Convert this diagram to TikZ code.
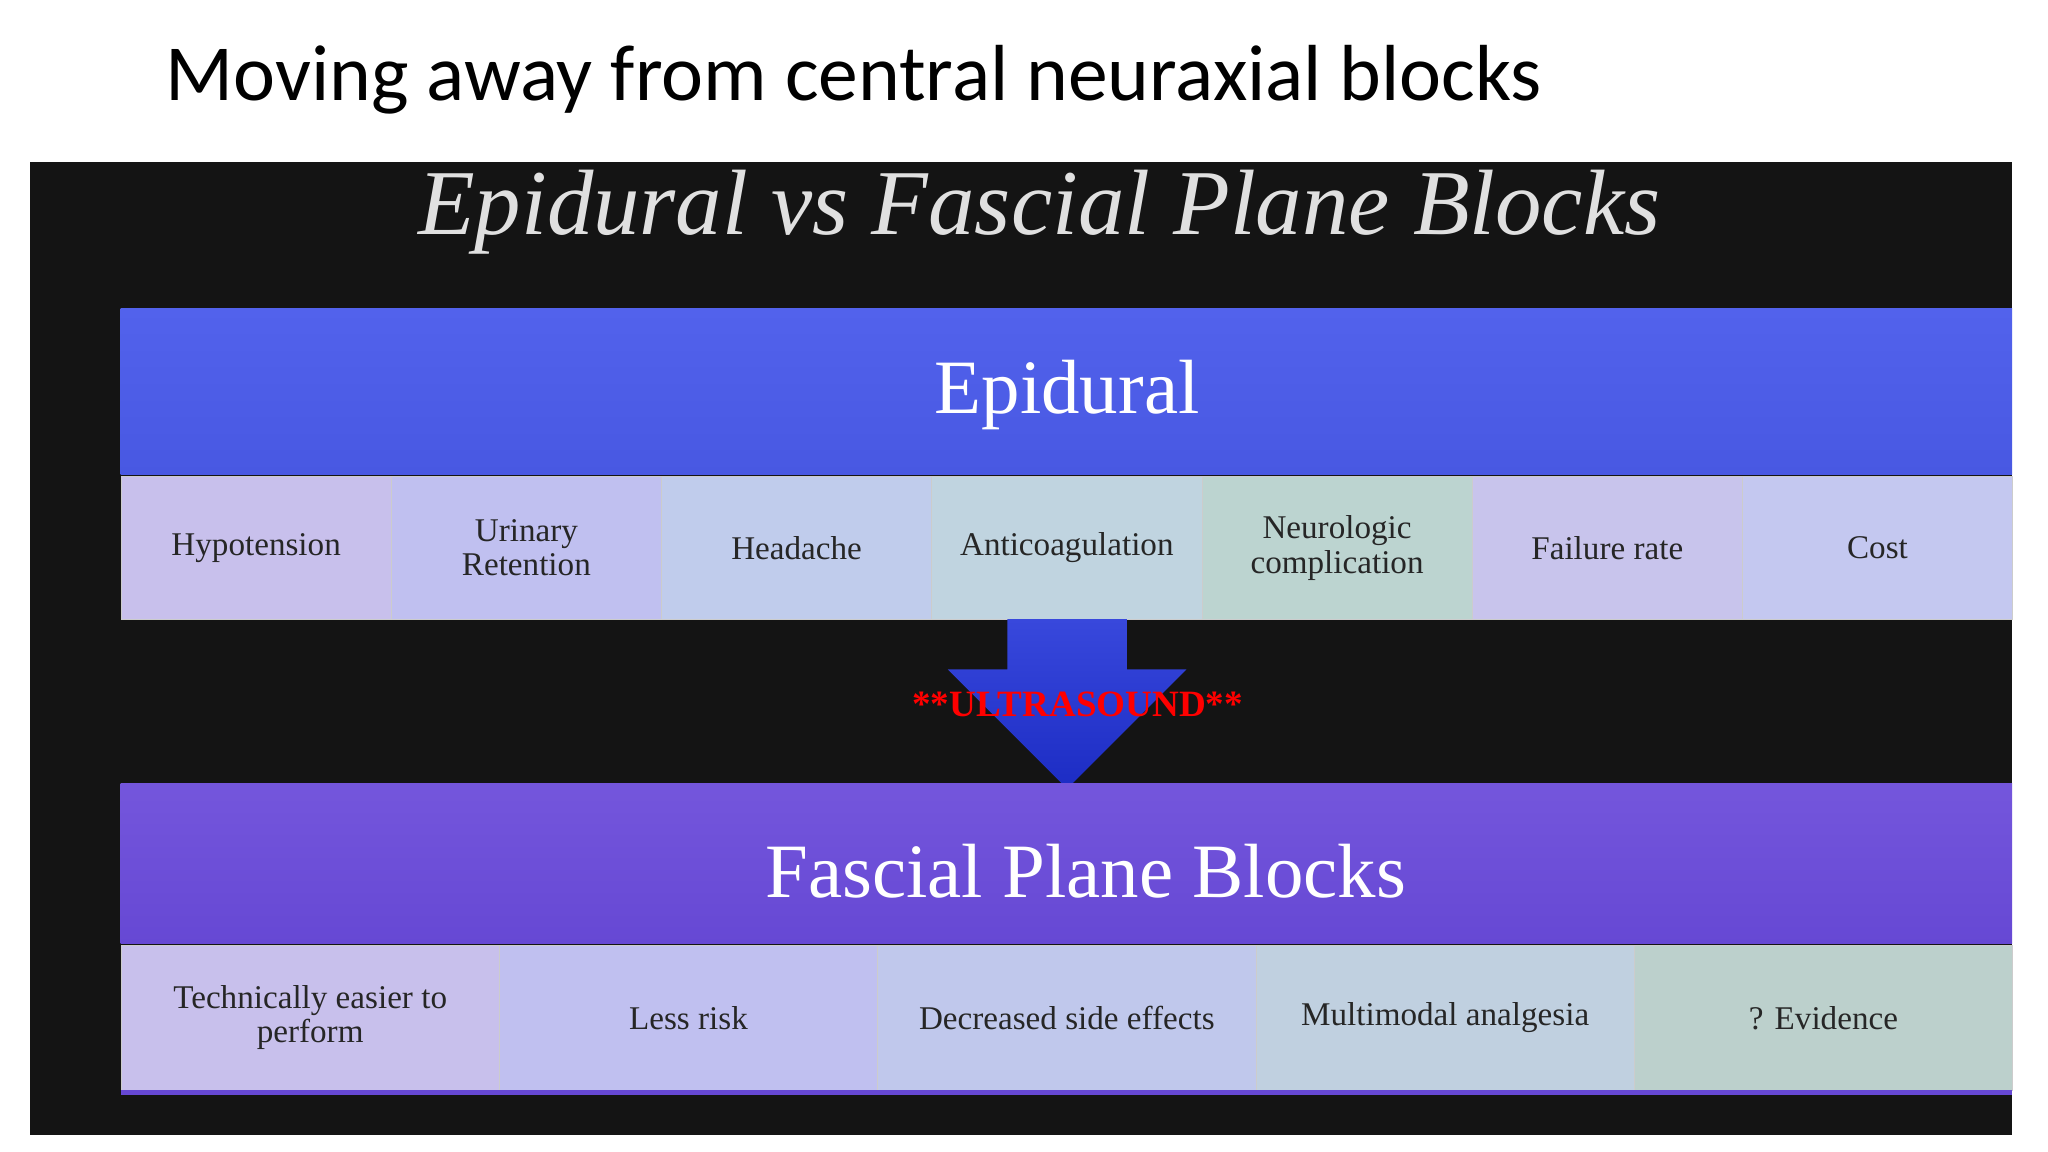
\documentclass[tikz,border=0pt]{standalone}
\usepackage{fontspec}
\setmainfont{Liberation Serif}
\newfontfamily\calfont{Carlito}
\definecolor{epiT}{RGB}{82,98,236}
\definecolor{epiB}{RGB}{72,88,226}
\definecolor{arrT}{RGB}{56,72,220}
\definecolor{arrB}{RGB}{28,44,196}
\definecolor{fpbT}{RGB}{116,86,220}
\definecolor{fpbB}{RGB}{102,72,212}
\begin{document}
\begin{tikzpicture}[x=0.5pt,y=-0.5pt,
  cell/.style={draw=white!60!gray,line width=0.3pt,inner sep=0,anchor=north west,align=center,font=\fontsize{12.5}{13}\selectfont,text=black!85},
  hdr/.style={text=white,font=\fontsize{29}{30}\selectfont}]
\useasboundingbox (0,0) rectangle (1545,869);
\fill[white] (0,0) rectangle (1545,869);
\node[anchor=west,font=\calfont\fontsize{30}{32}\selectfont] (title) at (118,60) {Moving away from central neuraxial blocks};
\fill[black!92] (23,122) rectangle (1518,856);
\node[text=black!12,font=\itshape\fontsize{35}{36}\selectfont] (sub) at (784,160) {Epidural vs Fascial Plane Blocks};
\shade[top color=epiT,bottom color=epiB] (91,233) rectangle (1518,358);
\node[hdr] (epi) at (805,298) {Epidural};
\def\w{203.857}
\foreach \i/\t/\c in {0/Hypotension/{200,192,236},1/{Urinary\\Retention}/{192,192,240},2/Headache/{192,204,236},3/Anticoagulation/{192,212,224},4/{Neurologic\\complication}/{188,212,208},5/Failure rate/{200,196,236},6/Cost/{196,200,240}}{
  \definecolor{cc}{RGB}{\c}
  \node[cell,fill=cc,minimum width=\w*0.5pt,minimum height=54pt] (e\i) at (91+\i*\w,359) {\t};
}
\shade[top color=arrT,bottom color=arrB]
  (760,467) -- (850,467) -- (850,505) -- (895,505) -- (805,595) -- (715,505) -- (760,505) -- cycle;
\node[text=red,font=\bfseries\fontsize{14}{15}\selectfont] (us) at (813,531) {**ULTRASOUND**};
\shade[top color=fpbT,bottom color=fpbB] (91,591) rectangle (1518,712);
\node[hdr] (fpb) at (819,657) {Fascial Plane Blocks};
\def\v{285.4}
\foreach \i/\t/\c in {0/{Technically easier to\\perform}/{200,192,236},1/Less risk/{192,192,240},2/Decreased side effects/{192,200,236},3/Multimodal analgesia/{192,208,224},4/? Evidence/{188,208,204}}{
  \definecolor{cc}{RGB}{\c}
  \node[cell,fill=cc,minimum width=\v*0.5pt,minimum height=54.5pt] (f\i) at (91+\i*\v,713) {\t};
}
\fill[fpbB] (91,822) rectangle (1518,826);
\end{tikzpicture}
\end{document}
